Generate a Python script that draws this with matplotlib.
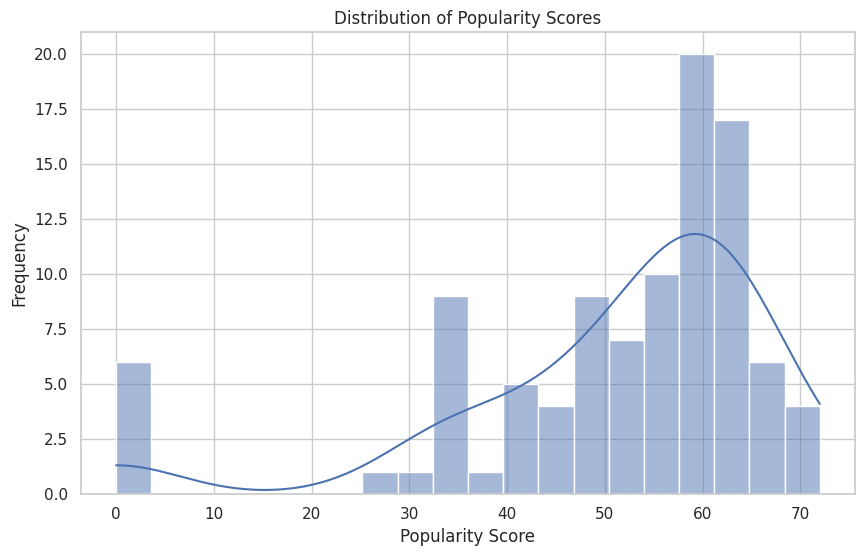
import matplotlib
matplotlib.use("Agg")
import matplotlib.pyplot as plt
import seaborn as sns

# popularity scores (integers), estimated to reproduce the histogram counts
zeros = [0, 0, 0, 0, 0, 0]
low_mid = [27, 31, 33, 33, 34, 34, 34, 35, 35, 35, 33, 38]
forties = [40, 41, 41, 42, 43, 44, 45, 45, 46, 47, 48, 48, 49, 49, 49]
fifties = [50, 50, 50, 51, 51, 52, 52, 53, 53, 53, 55, 55, 55, 56, 56, 56, 57, 57, 57, 55]
peak = [58] * 5 + [59] * 5 + [60] * 5 + [61] * 5
upper = [62] * 6 + [63] * 6 + [64] * 5 + [65, 66, 66, 67, 67, 68, 69, 70, 71, 72]

scores = zeros + low_mid + forties + fifties + peak + upper

sns.set_theme(style="whitegrid")

fig, ax = plt.subplots(figsize=(8.65, 5.56), dpi=100)
sns.histplot(scores, bins=20, kde=True, ax=ax)
ax.set_title("Distribution of Popularity Scores")
ax.set_xlabel("Popularity Score")
ax.set_ylabel("Frequency")

fig.subplots_adjust(left=0.0936, right=0.9884, top=0.9424, bottom=0.1115)
fig.savefig("out.png", dpi=100)
